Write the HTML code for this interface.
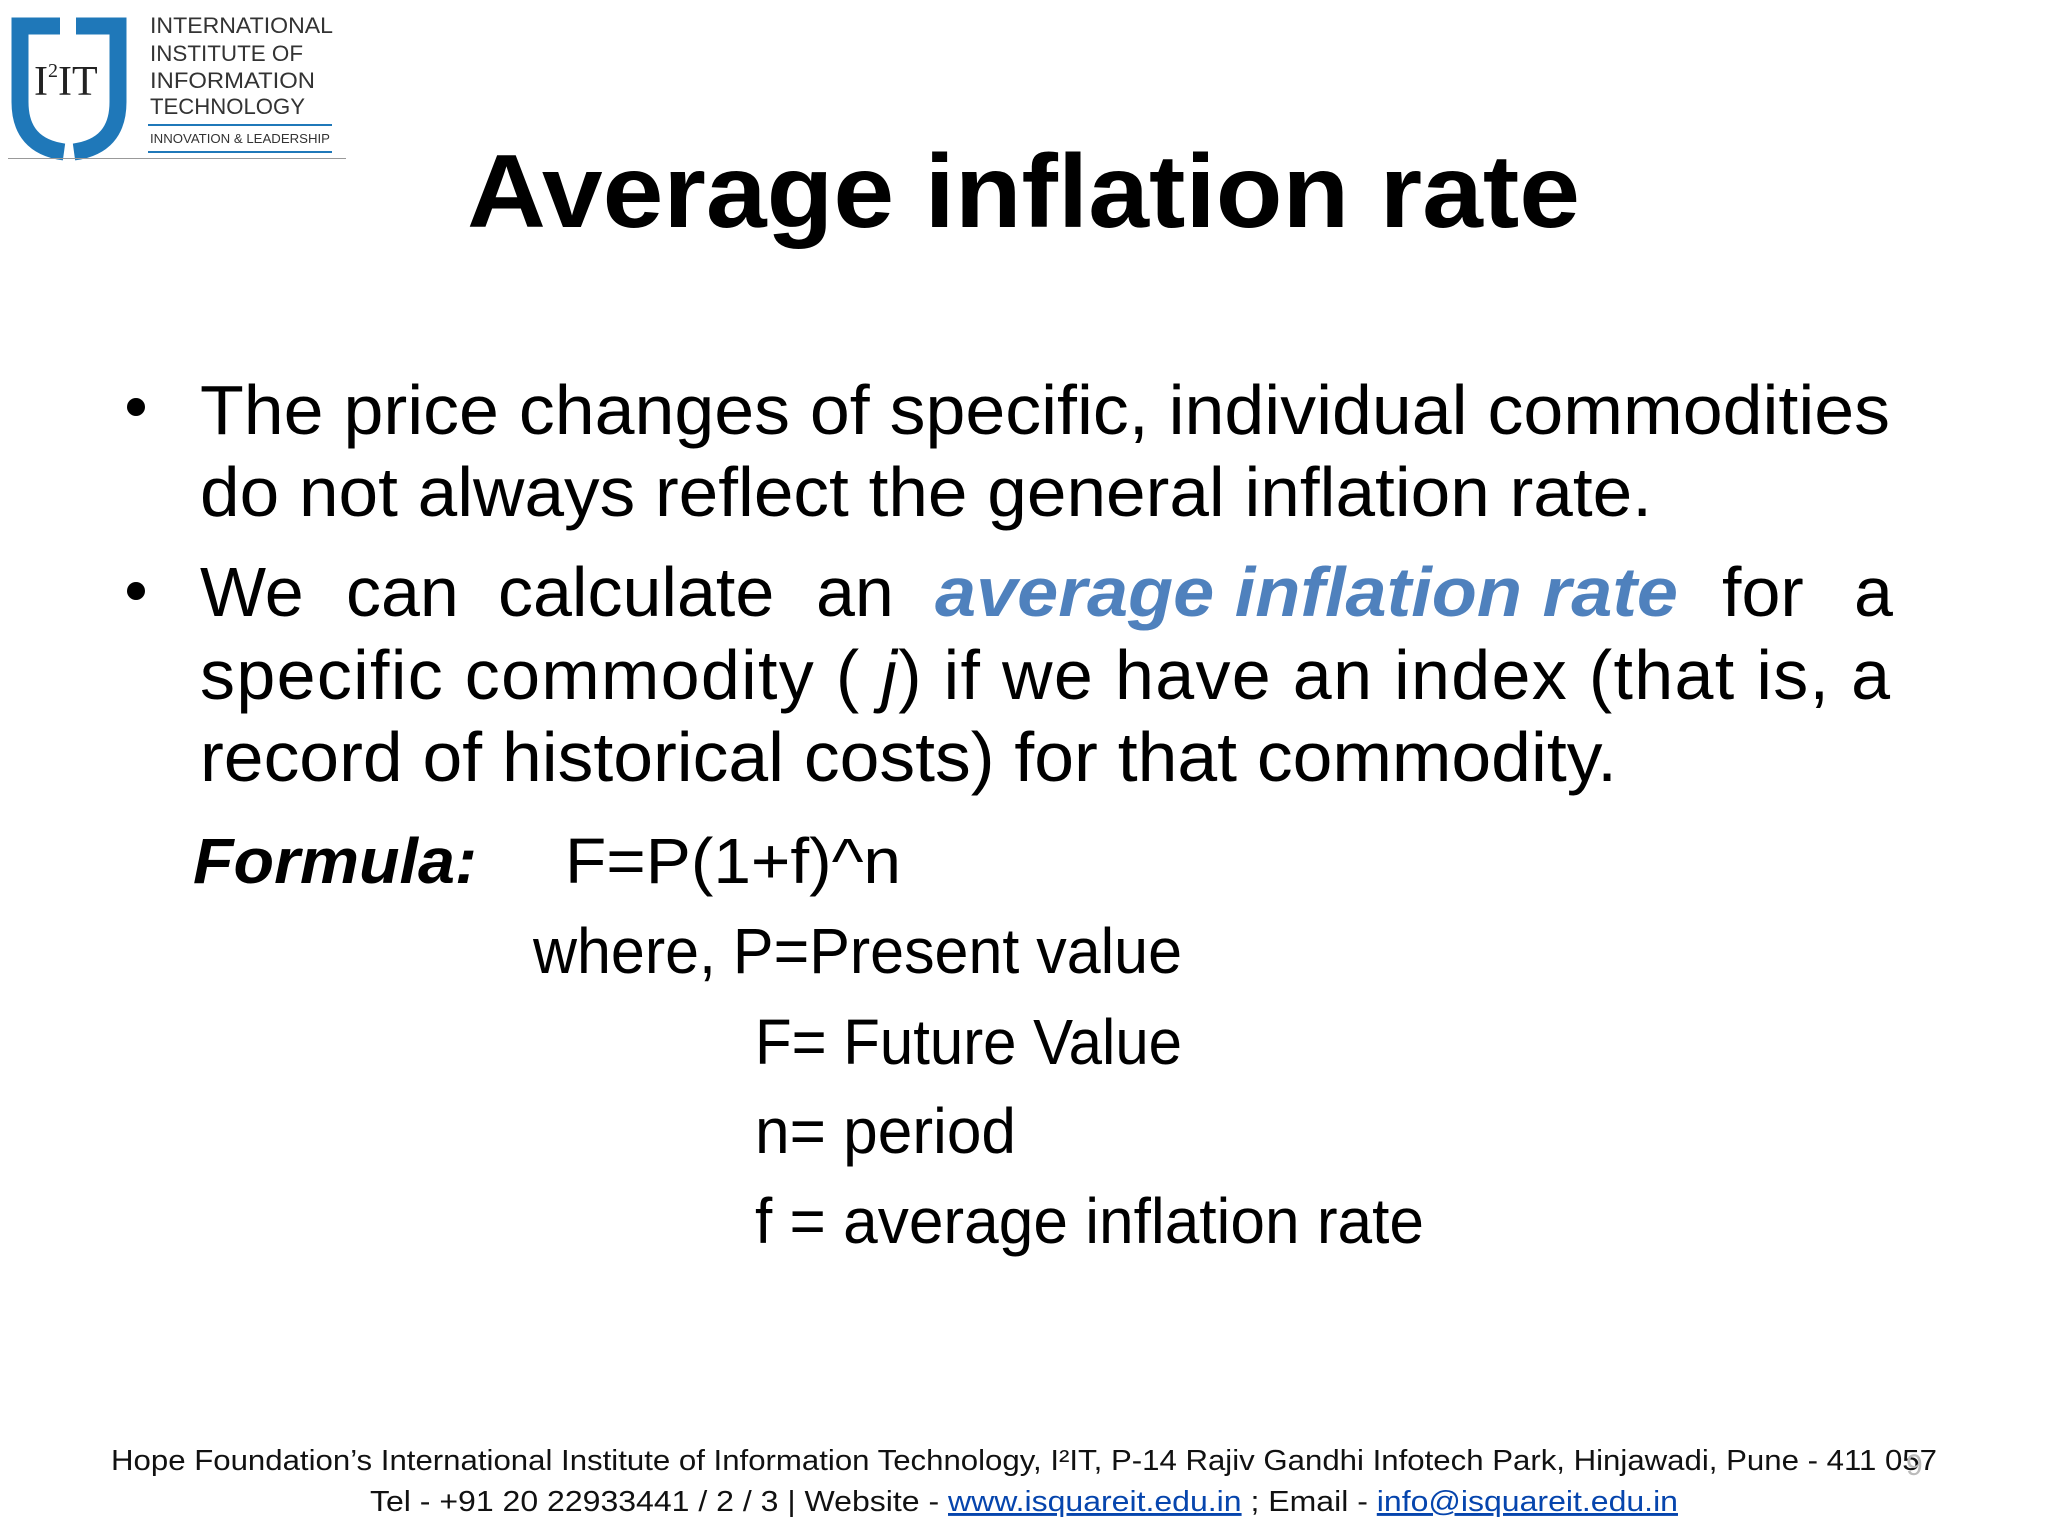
<!DOCTYPE html>
<html><head><meta charset="utf-8"><style>
html,body{margin:0;padding:0;background:#fff}
svg{display:block}
text{font-family:"Liberation Sans",sans-serif}
</style></head><body>
<svg width="2048" height="1536" viewBox="0 0 2048 1536">
<g>
<path d="M60,26 L20,26 L20,102 Q20,146 64,152" fill="none" stroke="#1f78b9" stroke-width="17"/>
<path d="M76,26 L118,26 L118,102 Q118,146 74,152" fill="none" stroke="#1f78b9" stroke-width="17"/>
<text x="34" y="95" style="font-family:'Liberation Serif',serif" font-size="42" fill="#222">I<tspan font-size="20" dy="-18">2</tspan><tspan dy="18">IT</tspan></text>
<text x="150" y="33" font-size="22" fill="#333" textLength="183" lengthAdjust="spacingAndGlyphs">INTERNATIONAL</text>
<text x="150" y="61" font-size="22" fill="#333" textLength="153" lengthAdjust="spacingAndGlyphs">INSTITUTE OF</text>
<text x="150" y="88" font-size="22" fill="#333" textLength="165" lengthAdjust="spacingAndGlyphs">INFORMATION</text>
<text x="150" y="114" font-size="22" fill="#333" textLength="155" lengthAdjust="spacingAndGlyphs">TECHNOLOGY</text>
<rect x="148" y="124" width="184" height="2" fill="#1f78b9"/>
<text x="150" y="143" font-size="13" fill="#333" textLength="180" lengthAdjust="spacingAndGlyphs">INNOVATION &amp; LEADERSHIP</text>
<rect x="148" y="151" width="184" height="2" fill="#1f78b9"/>
<rect x="8" y="158" width="338" height="1" fill="#999"/>
</g>
<text x="467" y="227" font-size="104" font-weight="bold" fill="#000" textLength="1113" lengthAdjust="spacingAndGlyphs">Average inflation rate</text>
<g font-size="70" fill="#000">
<circle cx="136" cy="407" r="9"/>
<circle cx="136" cy="591" r="9"/>
<text x="200" y="434" textLength="1690" lengthAdjust="spacingAndGlyphs">The price changes of specific, individual commodities</text>
<text x="200" y="516" textLength="1452" lengthAdjust="spacingAndGlyphs">do not always reflect the general inflation rate.</text>
<text y="616"><tspan x="200">We</tspan><tspan x="346">can</tspan><tspan x="498">calculate</tspan><tspan x="816">an</tspan><tspan x="935" font-weight="bold" font-style="italic" fill="#4f81bd" textLength="743" lengthAdjust="spacingAndGlyphs">average inflation rate</tspan><tspan x="1722">for</tspan><tspan x="1854">a</tspan></text>
<text x="200" y="699" textLength="1690" lengthAdjust="spacing">specific commodity ( <tspan font-style="italic">j</tspan>) if we have an index (that is, a</text>
<text x="200" y="781" textLength="1417" lengthAdjust="spacingAndGlyphs">record of historical costs) for that commodity.</text>
</g>
<g font-size="64" fill="#000">
<text x="193" y="883" font-weight="bold" font-style="italic" textLength="284" lengthAdjust="spacingAndGlyphs">Formula:</text>
<text x="565" y="883" textLength="336" lengthAdjust="spacingAndGlyphs">F=P(1+f)^n</text>
<text x="533" y="973" textLength="649" lengthAdjust="spacingAndGlyphs">where, P=Present value</text>
<text x="755" y="1064" textLength="427" lengthAdjust="spacingAndGlyphs">F= Future Value</text>
<text x="755" y="1153" textLength="261" lengthAdjust="spacingAndGlyphs">n= period</text>
<text x="755" y="1243" textLength="669" lengthAdjust="spacingAndGlyphs">f = average inflation rate</text>
</g>
<g font-size="29" fill="#111">
<text x="111" y="1470" textLength="1826" lengthAdjust="spacingAndGlyphs">Hope Foundation’s International Institute of Information Technology, I²IT, P-14 Rajiv Gandhi Infotech Park, Hinjawadi, Pune - 411 057</text>
<text x="1906" y="1475" fill="#bbb" font-size="30">9</text>
<text x="370" y="1511" textLength="1308" lengthAdjust="spacingAndGlyphs">Tel - +91 20 22933441 / 2 / 3  |  Website - <tspan fill="#0645ad" text-decoration="underline">www.isquareit.edu.in</tspan> ; Email - <tspan fill="#0645ad" text-decoration="underline">info@isquareit.edu.in</tspan></text>
</g>
</svg>
</body></html>
